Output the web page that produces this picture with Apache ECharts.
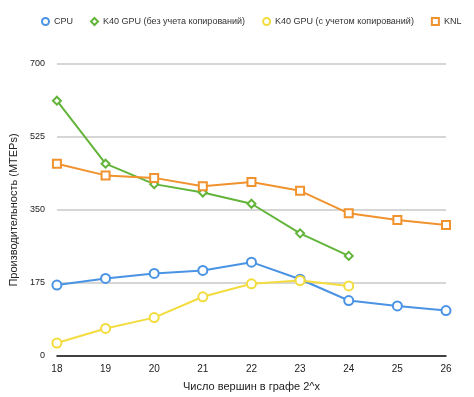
<!DOCTYPE html>
<html>
<head>
<meta charset="utf-8">
<script src="https://cdn.jsdelivr.net/npm/echarts@6/dist/echarts.min.js"></script>
<style>
  html, body { margin: 0; padding: 0; background: #fff; }
  #main { width: 474px; height: 397px; }
</style>
</head>
<body>
<div id="main"></div>
<script>
var categories = ['18', '19', '20', '21', '22', '23', '24', '25', '26'];
var cpu = [170, 186, 198, 205, 225, 184, 133, 120, 109];
var gpuNoCopy = [612, 461, 412, 392, 365, 294, 240, null, null];
var gpuCopy = [31, 66, 92, 142, 173, 181, 168, null, null];
var knl = [461, 433, 427, 407, 417, 396, 342, 326, 314];
var yTicks = [0, 175, 350, 525, 700];

var chartDom = document.getElementById('main');
var myChart = echarts.init(chartDom);
var option;

function line(name, data, color, symbol) {
  return {
    name: name,
    type: 'line',
    data: data,
    symbol: symbol,
    symbolSize: symbol === 'circle' ? 9 : 8,
    showAllSymbol: true,
    connectNulls: false,
    lineStyle: { color: color, width: 2 },
    itemStyle: { color: '#fff', borderColor: color, borderWidth: 2 },
    emphasis: { disabled: true }
  };
}

option = {
  animation: false,
  textStyle: { fontFamily: 'Liberation Sans, Arial, sans-serif' },
  color: ['#4a93e4', '#63b43a', '#f3dc3d', '#f0922d'],
  legend: {
    top: 17,
    left: 41,
    right: 0,
    padding: 0,
    itemGap: 17,
    itemWidth: 7,
    itemHeight: 7,
    textStyle: { fontSize: 9, color: '#333' },
    data: [
      { name: 'CPU', icon: 'circle' },
      { name: 'K40 GPU (без учета копирований)', icon: 'diamond' },
      { name: 'K40 GPU (с учетом копирований)', icon: 'circle' },
      { name: 'KNL', icon: 'rect' }
    ]
  },
  grid: { left: 52, right: 28, top: 64, bottom: 39, containLabel: false },
  xAxis: {
    type: 'category',
    data: categories,
    boundaryGap: false,
    name: 'Число вершин в графе 2^x',
    nameLocation: 'middle',
    nameGap: 25,
    nameTextStyle: { fontSize: 11, color: '#222' },
    axisLine: { lineStyle: { color: '#111', width: 1.5 } },
    axisTick: { show: false },
    axisLabel: { fontSize: 10, color: '#222', margin: 8 }
  },
  yAxis: {
    type: 'value',
    min: yTicks[0],
    max: yTicks[yTicks.length - 1],
    interval: 175,
    name: 'Производительность (MTEPs)',
    nameLocation: 'middle',
    nameGap: 34,
    nameTextStyle: { fontSize: 11, color: '#222' },
    axisLine: { show: false },
    axisTick: { show: false },
    axisLabel: { fontSize: 9, color: '#222', margin: 12 },
    splitLine: { lineStyle: { color: '#c8c8c8', width: 1.5 } }
  },
  series: [
    line('CPU', cpu, '#4a93e4', 'circle'),
    line('K40 GPU (без учета копирований)', gpuNoCopy, '#63b43a', 'diamond'),
    line('K40 GPU (с учетом копирований)', gpuCopy, '#f3dc3d', 'circle'),
    line('KNL', knl, '#f0922d', 'rect')
  ]
};

option && myChart.setOption(option);
</script>
</body>
</html>
